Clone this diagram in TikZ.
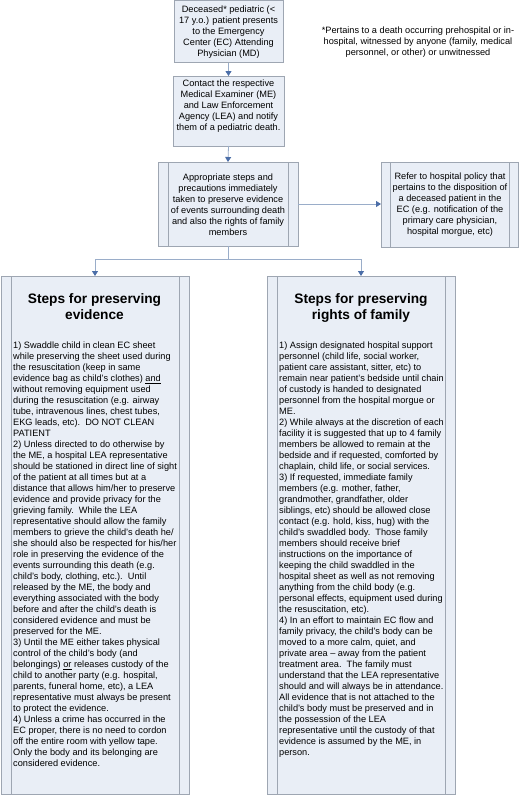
\documentclass[tikz,border=0pt]{standalone}
\usepackage{fontspec}
\setmainfont{Liberation Sans}
\usetikzlibrary{arrows.meta,calc}
\definecolor{boxfill}{HTML}{E9EEF6}
\definecolor{boxline}{HTML}{9EA6B2}
\definecolor{conline}{HTML}{9AADC9}
\definecolor{arrowblue}{HTML}{4B6EA8}
\tikzset{
  box/.style={draw=boxline,fill=boxfill,line width=0.8pt,rectangle,inner sep=0pt,outer sep=0pt},
  txt/.style={font=\fontsize{9.2}{11}\selectfont,inner sep=0pt,align=center,anchor=north},
  bodytxt/.style={font=\fontsize{9.2}{11}\selectfont,inner sep=0pt,align=left,anchor=north west},
  titletxt/.style={font=\fontsize{13.7}{16}\selectfont\bfseries,inner sep=0pt,align=center,anchor=north},
  bar/.style={draw=boxline,line width=0.8pt},
  conline/.style={draw=conline,line width=0.8pt},
  conn/.style={conline,-{Triangle[length=5pt,width=6pt,color=arrowblue]}}
}
\newcommand{\procbars}[2]{%
  \draw[bar] ($(#1.north west)+(#2,0)$) -- ($(#1.south west)+(#2,0)$);
  \draw[bar] ($(#1.north east)+(-#2,0)$) -- ($(#1.south east)+(-#2,0)$);}
\begin{document}
\begin{tikzpicture}[x=1pt,y=-1pt]
\fill[white] (0,0) rectangle (520,796);
\useasboundingbox (0,0) rectangle (520,796);

% boxes
\node[box,minimum width=109,minimum height=62] (b1) at (228.5,31.5) {};
\node[box,minimum width=111,minimum height=70] (b2) at (228.5,111) {};
\node[box,minimum width=140,minimum height=84] (b3) at (228,204) {};
\node[box,minimum width=137,minimum height=85] (b4) at (449.5,204.5) {};
\node[box,minimum width=188,minimum height=518] (L) at (95,535) {};
\node[box,minimum width=188,minimum height=518] (R) at (361,535) {};
\procbars{b3}{10}
\procbars{b4}{9}
\procbars{L}{10}
\procbars{R}{10}

% connectors
\draw[conn] (b1.south) -- (b2.north);
\draw[conn] (b2.south) -- (b3.north);
\draw[conn] (b3.east) -- (b3.east -| b4.west);
\coordinate (j) at (228,259);
\draw[conline] (b3.south) -- (j);
\draw[conn] (j) -| (L.north);
\draw[conn] (j) -| (R.north);

% texts
\node[txt] (t1) at (228.5,4.6) {\strut Deceased* pediatric (<\\17 y.o.) patient presents\\to the Emergency\\Center (EC) Attending\\Physician (MD)};
\node[txt] (fn) at (418,26) {\strut *Pertains to a death occurring prehospital or in-\\hospital, witnessed by anyone (family, medical\\personnel, or other) or unwitnessed};
\node[txt] (t2) at (228.5,78.6) {\strut Contact the respective\\Medical Examiner (ME)\\and Law Enforcement\\Agency (LEA) and notify\\them of a pediatric death.};
\node[txt] (t3) at (228,172.3) {\strut Appropriate steps and\\precautions immediately\\taken to preserve evidence\\of events surrounding death\\and also the rights of family\\members};
\node[txt] (t4) at (450,171.3) {\strut Refer to hospital policy that\\pertains to the disposition of\\a deceased patient in the\\EC (e.g. notification of the\\primary care physician,\\hospital morgue, etc)};

\node[titletxt] (tl) at (94.5,292.3) {\strut Steps for preserving\\evidence};
\node[titletxt] (tr) at (361,292.3) {\strut Steps for preserving\\rights of family};

\node[bodytxt] (bl) at (13,341) {\strut 1) Swaddle child in clean EC sheet\\
while preserving the sheet used during\\
the resuscitation (keep in same\\
evidence bag as child's clothes) \underline{and}\\
without removing equipment used\\
during the resuscitation (e.g. airway\\
tube, intravenous lines, chest tubes,\\
EKG leads, etc).\ \ DO NOT CLEAN\\
PATIENT\\
2) Unless directed to do otherwise by\\
the ME, a hospital LEA representative\\
should be stationed in direct line of sight\\
of the patient at all times but at a\\
distance that allows him/her to preserve\\
evidence and provide privacy for the\\
grieving family.\ \ While the LEA\\
representative should allow the family\\
members to grieve the child's death he/\\
she should also be respected for his/her\\
role in preserving the evidence of the\\
events surrounding this death (e.g.\\
child's body, clothing, etc.).\ \ Until\\
released by the ME, the body and\\
everything associated with the body\\
before and after the child's death is\\
considered evidence and must be\\
preserved for the ME.\\
3) Until the ME either takes physical\\
control of the child's body (and\\
belongings) \underline{or} releases custody of the\\
child to another party (e.g. hospital,\\
parents, funeral home, etc), a LEA\\
representative must always be present\\
to protect the evidence.\\
4) Unless a crime has occurred in the\\
EC proper, there is no need to cordon\\
off the entire room with yellow tape.\\
Only the body and its belonging are\\
considered evidence.};

\node[bodytxt] (br) at (279,341) {\strut 1) Assign designated hospital support\\
personnel (child life, social worker,\\
patient care assistant, sitter, etc) to\\
remain near patient's bedside until chain\\
of custody is handed to designated\\
personnel from the hospital morgue or\\
ME.\\
2) While always at the discretion of each\\
facility it is suggested that up to 4 family\\
members be allowed to remain at the\\
bedside and if requested, comforted by\\
chaplain, child life, or social services.\\
3) If requested, immediate family\\
members (e.g. mother, father,\\
grandmother, grandfather, older\\
siblings, etc) should be allowed close\\
contact (e.g. hold, kiss, hug) with the\\
child's swaddled body.\ \ Those family\\
members should receive brief\\
instructions on the importance of\\
keeping the child swaddled in the\\
hospital sheet as well as not removing\\
anything from the child body (e.g.\\
personal effects, equipment used during\\
the resuscitation, etc).\\
4) In an effort to maintain EC flow and\\
family privacy, the child's body can be\\
moved to a more calm, quiet, and\\
private area -- away from the patient\\
treatment area.\ \ The family must\\
understand that the LEA representative\\
should and will always be in attendance.\\
All evidence that is not attached to the\\
child's body must be preserved and in\\
the possession of the LEA\\
representative until the custody of that\\
evidence is assumed by the ME, in\\
person.};
\end{tikzpicture}
\end{document}
